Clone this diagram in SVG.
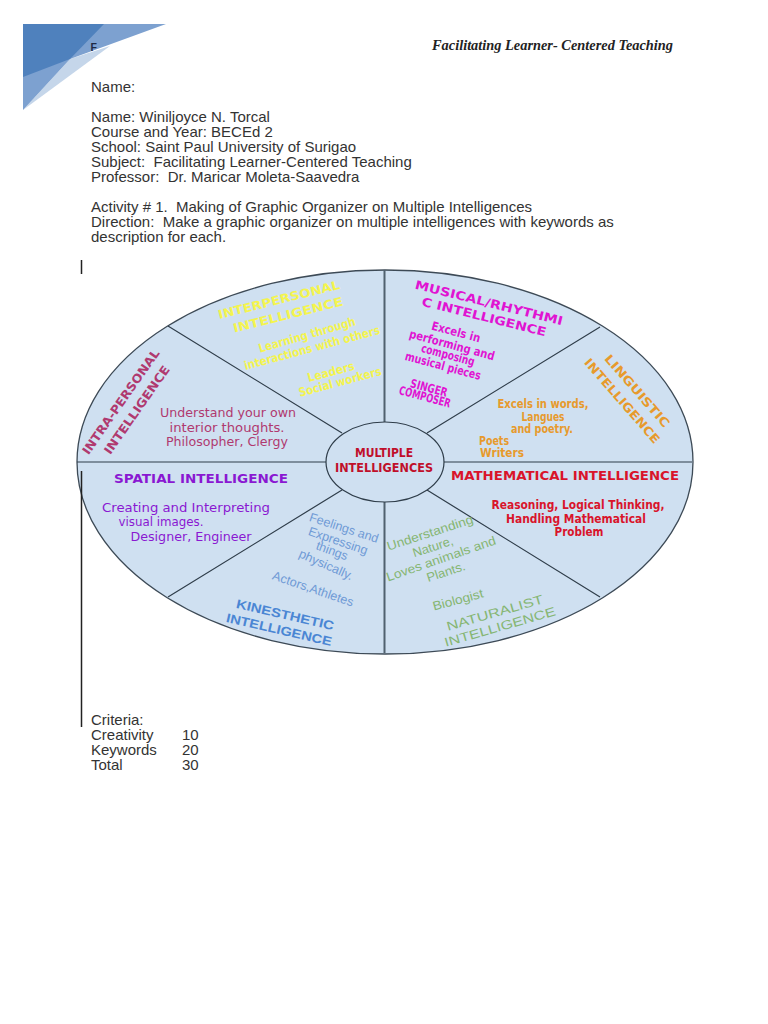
<svg xmlns="http://www.w3.org/2000/svg" width="768" height="1024" viewBox="0 0 768 1024">
<style>
.b{font-family:"Liberation Sans",Arial,sans-serif;font-size:15px;fill:#333}
.c text,text.c{font-family:"DejaVu Sans",sans-serif;text-anchor:middle}
.c text{font-size:12px;dominant-baseline:central}
.a text{font-family:"Liberation Sans",Arial,sans-serif;text-anchor:middle;font-size:12.500px;dominant-baseline:central}
.h text{font-weight:bold}
.l{stroke:#2f3d4a;stroke-width:1.2;fill:none}
</style>
<rect width="768" height="1024" fill="#fff"/>
<g id="corner">
<polygon points="23,110 110,46 70,59" fill="#c5d6ea"/>
<polygon points="23,110 70,59 166,24 23,24" fill="#7da1d0"/>
<polygon points="23,77 70,59 104,24 23,24" fill="#4f81bd"/>
</g>
<text x="90.500" y="51" font-family="Liberation Sans,sans-serif" font-size="10.500" font-weight="bold" fill="#1f2a44">F</text>
<text x="432" y="50" font-family="Liberation Serif,serif" font-style="italic" font-weight="bold" font-size="14" fill="#222" textLength="241" lengthAdjust="spacingAndGlyphs">Facilitating Learner- Centered Teaching</text>
<g id="document-text">
<text class="b" x="91" y="92">Name:</text>
<text class="b" x="91" y="122">Name: Winiljoyce N. Torcal</text>
<text class="b" x="91" y="137">Course and Year: BECEd 2</text>
<text class="b" x="91" y="152">School: Saint Paul University of Surigao</text>
<text class="b" x="91" y="167" xml:space="preserve">Subject:  Facilitating Learner-Centered Teaching</text>
<text class="b" x="91" y="182" xml:space="preserve">Professor:  Dr. Maricar Moleta-Saavedra</text>
<text class="b" x="91" y="212" xml:space="preserve">Activity # 1.  Making of Graphic Organizer on Multiple Intelligences</text>
<text class="b" x="91" y="227" xml:space="preserve">Direction:  Make a graphic organizer on multiple intelligences with keywords as</text>
<text class="b" x="91" y="242">description for each.</text>
<text class="b" x="91" y="725">Criteria:</text>
<text class="b" x="91" y="740">Creativity</text><text class="b" x="182" y="740">10</text>
<text class="b" x="91" y="755">Keywords</text><text class="b" x="182" y="755">20</text>
<text class="b" x="91" y="770">Total</text><text class="b" x="182" y="770">30</text>
</g>
<ellipse id="wheel" cx="385" cy="462" rx="308" ry="192" fill="#cfe0f1" stroke="#3d4a56" stroke-width="1.3"/>
<g id="connectors">
<path class="l" d="M77 462H326M443 462H692M168 326L342 433M600 327L427 433M168 597L342 490M600 597L427 490"/>
<path d="M384.500 270V422M384.500 502V653" stroke="#50616f" stroke-width="2" fill="none"/>
<path d="M81.500 260V274M81.500 471V727" stroke="#222" stroke-width="1.500" fill="none"/>
</g>
<g id="center">
<ellipse cx="385" cy="462" rx="59" ry="40" fill="#cfe0f1" stroke="#2f3d4a" stroke-width="1.200"/>
<g class="c" fill="#c00f2a" font-weight="bold">
<text transform="translate(384 453)" textLength="58" lengthAdjust="spacingAndGlyphs" font-size="11.500">MULTIPLE</text>
<text transform="translate(384 468)" textLength="98" lengthAdjust="spacingAndGlyphs" font-size="11.500">INTELLIGENCES</text>
</g>
</g>
<g id="interpersonal" class="c" fill="#f4f44e">
<text transform="translate(279 300) rotate(-14)" textLength="125" lengthAdjust="spacingAndGlyphs" font-weight="bold" font-size="14">INTERPERSONAL</text>
<text transform="translate(288 315) rotate(-14)" textLength="113" lengthAdjust="spacingAndGlyphs" font-weight="bold" font-size="14">INTELLIGENCE</text>
<text transform="translate(307 335) rotate(-16)" textLength="100" lengthAdjust="spacingAndGlyphs" font-weight="bold">Learning through</text>
<text transform="translate(312 348) rotate(-15)" textLength="140" lengthAdjust="spacingAndGlyphs" font-weight="bold">interactions with others</text>
<text transform="translate(331 372) rotate(-15)" textLength="48" lengthAdjust="spacingAndGlyphs" font-weight="bold">Leaders</text>
<text transform="translate(340 382) rotate(-15)" textLength="85" lengthAdjust="spacingAndGlyphs" font-weight="bold">Social workers</text>
</g>
<g id="intrapersonal" class="c" fill="#b0396f">
<text transform="translate(121 402) rotate(-55)" textLength="125" lengthAdjust="spacingAndGlyphs" font-size="14" font-weight="bold">INTRA-PERSONAL</text>
<text transform="translate(137 410) rotate(-55)" textLength="105" lengthAdjust="spacingAndGlyphs" font-size="14" font-weight="bold">INTELLIGENCE</text>
<text transform="translate(228 413)" textLength="136" lengthAdjust="spacingAndGlyphs" font-size="13">Understand your own</text>
<text transform="translate(227 428)" textLength="115" lengthAdjust="spacingAndGlyphs" font-size="13">interior thoughts.</text>
<text transform="translate(227 442)" textLength="122" lengthAdjust="spacingAndGlyphs" font-size="13">Philosopher, Clergy</text>
</g>
<g id="musical" class="c" fill="#e014d2">
<text transform="translate(489 303) rotate(14)" textLength="152" lengthAdjust="spacingAndGlyphs" font-weight="bold" font-size="14">MUSICAL/RHYTHMI</text>
<text transform="translate(484 317) rotate(14)" textLength="128" lengthAdjust="spacingAndGlyphs" font-weight="bold" font-size="14">C INTELLIGENCE</text>
<text transform="translate(456 332) rotate(15)" textLength="50" lengthAdjust="spacingAndGlyphs" font-weight="bold" font-size="11">Excels in</text>
<text transform="translate(452 345) rotate(15)" textLength="88" lengthAdjust="spacingAndGlyphs" font-weight="bold" font-size="11">performing and</text>
<text transform="translate(448 355) rotate(15)" textLength="55" lengthAdjust="spacingAndGlyphs" font-weight="bold" font-size="11">composing</text>
<text transform="translate(443 366) rotate(15)" textLength="78" lengthAdjust="spacingAndGlyphs" font-weight="bold" font-size="11">musical pieces</text>
<text transform="translate(429 388) rotate(15)" textLength="38" lengthAdjust="spacingAndGlyphs" font-weight="bold" font-size="9">SINGER</text>
<text transform="translate(425 397) rotate(15)" textLength="53" lengthAdjust="spacingAndGlyphs" font-weight="bold" font-size="9">COMPOSER</text>
</g>
<g id="linguistic" class="c" fill="#e79a2c">
<text transform="translate(637 391) rotate(49)" textLength="92" lengthAdjust="spacingAndGlyphs" font-size="14" font-weight="bold">LINGUISTIC</text>
<text transform="translate(622 401) rotate(49)" textLength="108" lengthAdjust="spacingAndGlyphs" font-size="14" font-weight="bold">INTELLIGENCE</text>
<text transform="translate(543 404)" textLength="91" lengthAdjust="spacingAndGlyphs" font-size="11" font-weight="bold">Excels in words,</text>
<text transform="translate(543 417)" textLength="43" lengthAdjust="spacingAndGlyphs" font-size="11" font-weight="bold">Langues</text>
<text transform="translate(542 429)" textLength="62" lengthAdjust="spacingAndGlyphs" font-size="11" font-weight="bold">and poetry.</text>
<text transform="translate(494 441)" textLength="30" lengthAdjust="spacingAndGlyphs" font-size="11" font-weight="bold">Poets</text>
<text transform="translate(502 453)" textLength="44" lengthAdjust="spacingAndGlyphs" font-size="11" font-weight="bold">Writers</text>
</g>
<g id="spatial" class="c" fill="#8a18d2">
<text transform="translate(201 479)" textLength="174" lengthAdjust="spacingAndGlyphs" font-weight="bold" font-size="13">SPATIAL INTELLIGENCE</text>
<text transform="translate(186 508)" textLength="168" lengthAdjust="spacingAndGlyphs" font-size="13">Creating and Interpreting</text>
<text transform="translate(161 522)" textLength="85" lengthAdjust="spacingAndGlyphs" font-size="13">visual images.</text>
<text transform="translate(191 537)" textLength="121" lengthAdjust="spacingAndGlyphs" font-size="13">Designer, Engineer</text>
</g>
<g id="mathematical" class="c" fill="#d9142b" font-weight="bold">
<text transform="translate(565 476)" textLength="228" lengthAdjust="spacingAndGlyphs" font-size="13">MATHEMATICAL INTELLIGENCE</text>
<text transform="translate(578 505)" textLength="173" lengthAdjust="spacingAndGlyphs" font-size="12">Reasoning, Logical Thinking,</text>
<text transform="translate(576 519)" textLength="140" lengthAdjust="spacingAndGlyphs" font-size="12">Handling Mathematical</text>
<text transform="translate(579 532)" textLength="49" lengthAdjust="spacingAndGlyphs" font-size="12">Problem</text>
</g>
<g id="kinesthetic" class="a" fill="#6f9bd6">
<text transform="translate(344 528) rotate(18)" textLength="72" lengthAdjust="spacingAndGlyphs">Feelings and</text>
<text transform="translate(338 541) rotate(19)" textLength="62" lengthAdjust="spacingAndGlyphs">Expressing</text>
<text transform="translate(332 551) rotate(20)" textLength="33" lengthAdjust="spacingAndGlyphs">things</text>
<text transform="translate(326 565) rotate(24)" textLength="58" lengthAdjust="spacingAndGlyphs">physically.</text>
<text transform="translate(313 589) rotate(19)" textLength="85" lengthAdjust="spacingAndGlyphs">Actors,Athletes</text>
<g class="h" fill="#4a86d4">
<text transform="translate(285 615) rotate(13)" textLength="100" lengthAdjust="spacingAndGlyphs" font-size="14">KINESTHETIC</text>
<text transform="translate(279 630) rotate(13)" textLength="108" lengthAdjust="spacingAndGlyphs" font-size="14">INTELLIGENCE</text>
</g>
</g>
<g id="naturalist" class="a" fill="#86b673">
<text transform="translate(430 533) rotate(-18)" textLength="90" lengthAdjust="spacingAndGlyphs">Understanding</text>
<text transform="translate(433 547) rotate(-18)" textLength="42" lengthAdjust="spacingAndGlyphs">Nature,</text>
<text transform="translate(441 559) rotate(-19)" textLength="115" lengthAdjust="spacingAndGlyphs">Loves animals and</text>
<text transform="translate(446 572) rotate(-18)" textLength="40" lengthAdjust="spacingAndGlyphs">Plants.</text>
<text transform="translate(458 600) rotate(-15)" textLength="52" lengthAdjust="spacingAndGlyphs">Biologist</text>
<text transform="translate(495 613) rotate(-16)" textLength="100" lengthAdjust="spacingAndGlyphs" font-size="14">NATURALIST</text>
<text transform="translate(500 627) rotate(-16)" textLength="115" lengthAdjust="spacingAndGlyphs" font-size="14">INTELLIGENCE</text>
</g>
</svg>
